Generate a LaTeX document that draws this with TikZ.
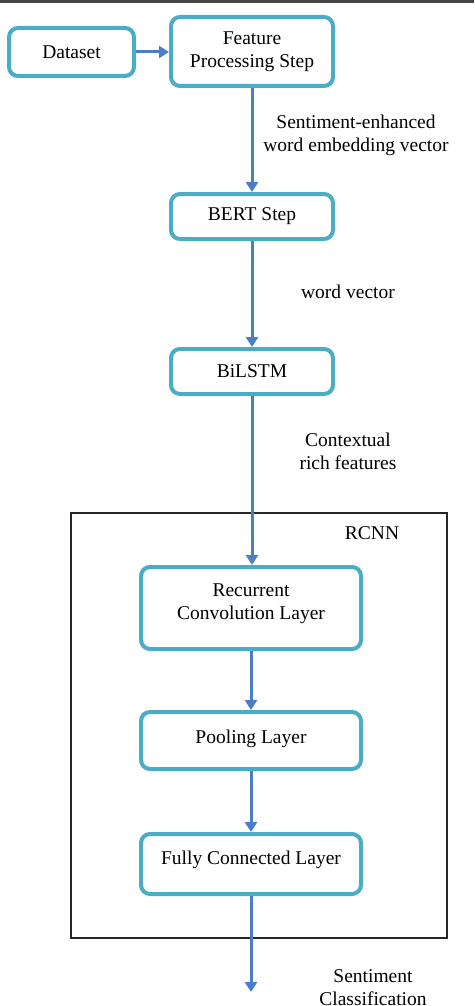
\documentclass[tikz,border=0pt]{standalone}
\usepackage{fontspec}
\setmainfont{Liberation Serif}
\usetikzlibrary{arrows.meta}
\definecolor{boxteal}{RGB}{75,172,198}
\definecolor{arrblue}{RGB}{74,126,200}
\definecolor{topbar}{RGB}{68,68,68}
\begin{document}
\begin{tikzpicture}[x=1pt,y=-1pt,
  stepbox/.style={draw=boxteal,line width=4pt,rounded corners=9pt,fill=white,
    align=center,inner sep=0pt,font=\fontsize{19.5}{23}\selectfont},
  flow/.style={draw=arrblue,line width=3pt,-{Triangle[width=12pt,length=10pt]}},
  lbl/.style={align=center,inner sep=0pt,font=\fontsize{19.5}{23}\selectfont}]
\useasboundingbox (0,0) rectangle (474,1006);
\fill[white] (0,0) rectangle (474,1006);
\fill[topbar] (0,0) rectangle (474,3.5);
% RCNN frame
\draw[line width=1.3pt,black!85] (71,513) rectangle (447,938);
\node[lbl] (rcnn) at (372,533) {RCNN};
% boxes
\node[stepbox,minimum width=125pt,minimum height=48pt] (data) at (71.5,52) {Dataset};
\node[stepbox,minimum width=162pt,minimum height=69pt] (feat) at (252,51.5) {Feature\\Processing Step};
\node[stepbox,minimum width=162pt,minimum height=45pt] (bert) at (252,216.5) {BERT Step};
\node[stepbox,minimum width=162pt,minimum height=45pt] (bilstm) at (252,371.5) {BiLSTM};
\node[stepbox,minimum width=220pt,minimum height=82pt,text depth=12pt] (rcl) at (251,608) {Recurrent\\Convolution Layer};
\node[stepbox,minimum width=220pt,minimum height=57pt,text depth=8pt] (pool) at (251,740.5) {Pooling Layer};
\node[stepbox,minimum width=220pt,minimum height=60pt,text depth=12pt] (fc) at (251,864) {Fully Connected Layer};
\coordinate (out) at (251,992);
% arrows
\draw[flow] (data.east) -- (data.east -| feat.west);
\draw[flow] (feat.south) -- (bert.north);
\draw[flow] (bert.south) -- (bilstm.north);
\draw[flow] (bilstm.south) -- (bilstm.south |- rcl.north);
\draw[flow] (rcl.south) -- (pool.north);
\draw[flow] (pool.south) -- (fc.north);
\draw[flow] (fc.south) -- (out);
% labels
\node[lbl] (l1) at (356,135.5) {Sentiment-enhanced\\word embedding vector};
\node[lbl] (l2) at (348,292) {word vector};
\node[lbl] (l3) at (348,451) {Contextual\\rich features};
\node[lbl] (l4) at (373,988) {Sentiment\\Classification};
\end{tikzpicture}
\end{document}
